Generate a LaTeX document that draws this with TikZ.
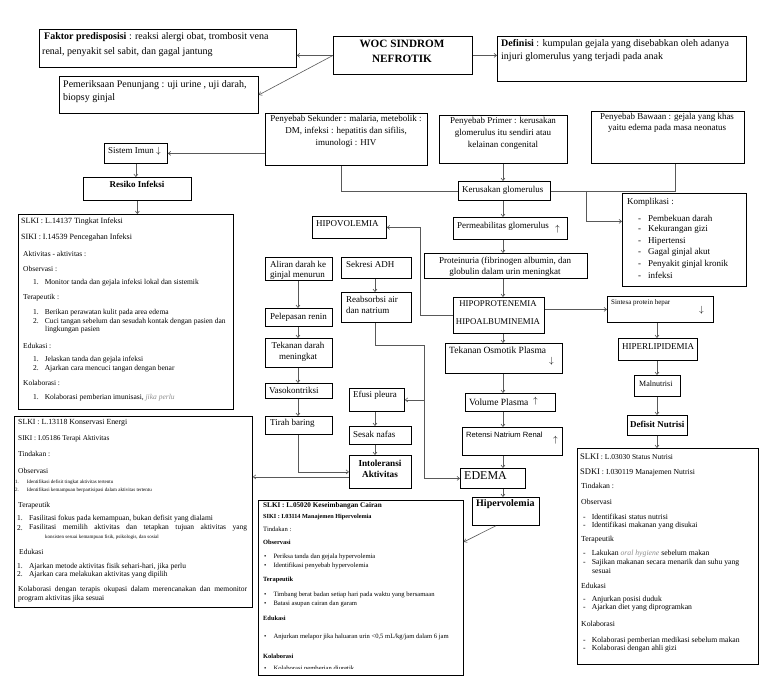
\documentclass[tikz,border=0pt]{standalone}
\usepackage{fontspec}
\setmainfont{Liberation Serif}
\newfontfamily\arialfont{Liberation Sans}
\usetikzlibrary{arrows.meta}

\tikzset{
  box/.style={draw, line width=0.8pt, inner sep=0pt, anchor=north west},
  txt/.style={inner sep=0pt, anchor=west, font=\fontsize{9}{10}\selectfont},
  big/.style={txt, font=\fontsize{10}{11}\selectfont},
  ctxt/.style={txt, anchor=center},
  btxt/.style={txt, font=\fontsize{9}{10}\selectfont\bfseries},
  ttl/.style={inner sep=0pt, font=\fontsize{11.2}{12}\selectfont\bfseries},
  sm/.style={inner sep=0pt, anchor=west, font=\fontsize{7.5}{8}\selectfont},
  sc/.style={inner sep=0pt, anchor=west, font=\fontsize{6.6}{7}\selectfont},
  scb/.style={sc, font=\fontsize{6.4}{7}\selectfont\bfseries},
  sn/.style={inner sep=0pt, anchor=west, font=\fontsize{7.7}{8}\selectfont},
  xs/.style={inner sep=0pt, anchor=west, font=\fontsize{5}{6}\selectfont},
  arr/.style={draw=black!65, line width=0.6pt, -{Straight Barb[length=2.5pt,width=4pt]}},
  ln/.style={draw=black!65, line width=0.6pt},
}

\begin{document}
\begin{tikzpicture}[x=1pt,y=-1pt]
\useasboundingbox[fill=white] (0,0) rectangle (768,678);

% boxes
\node[box, minimum width=257, minimum height=38] (faktor) at (39,29) {};
\node[box, minimum width=199, minimum height=37] (pemeriksaan) at (59,76) {};
\node[box, minimum width=139, minimum height=38] (woc) at (333,36) {};
\node[box, minimum width=249, minimum height=45] (definisi) at (497,36) {};
\node[box, minimum width=162, minimum height=52] (sekunder) at (265,113) {};
\node[box, minimum width=128, minimum height=48] (primer) at (439,115) {};
\node[box, minimum width=153, minimum height=52] (bawaan) at (591,111) {};
\node[box, minimum width=63, minimum height=20] (imun) at (104,143) {};
\node[box, minimum width=108, minimum height=23] (resiko) at (83,177) {};
\node[box, minimum width=215, minimum height=195] (infeksi) at (18,214) {};
\node[box, minimum width=92, minimum height=19] (kerusakan) at (458,181) {};
\node[box, minimum width=74, minimum height=22] (hipovolemia) at (312,216) {};
\node[box, minimum width=114, minimum height=22] (permeabilitas) at (453,217) {};
\node[box, minimum width=124, minimum height=93] (komplikasi) at (622,193) {};
\node[box, minimum width=67, minimum height=23] (aliran) at (265,257) {};
\node[box, minimum width=70, minimum height=21] (sekresi) at (341,257) {};
\node[box, minimum width=163, minimum height=25] (proteinuria) at (424,253) {};
\node[box, minimum width=70, minimum height=30] (reab) at (341,292) {};
\node[box, minimum width=67, minimum height=18] (pelepasan) at (265,308) {};
\node[box, minimum width=91, minimum height=36] (hipo) at (453,297) {};
\node[box, minimum width=106, minimum height=26] (sintesa) at (607,296) {};
\node[box, minimum width=67, minimum height=29] (tekdarah) at (265,338) {};
\node[box, minimum width=117, minimum height=30] (osmotik) at (445,343) {};
\node[box, minimum width=79, minimum height=22] (hiperlip) at (618,338) {};
\node[box, minimum width=67, minimum height=15] (vaso) at (265,383) {};
\node[box, minimum width=46, minimum height=21] (malnut) at (634,375) {};
\node[box, minimum width=55, minimum height=23] (efusi) at (349,388) {};
\node[box, minimum width=90, minimum height=18] (volume) at (465,393) {};
\node[box, minimum width=60, minimum height=20] (defisit) at (627,415) {};
\node[box, minimum width=67, minimum height=18] (tirah) at (265,416) {};
\node[box, minimum width=62, minimum height=18] (sesak) at (349,426) {};
\node[box, minimum width=100, minimum height=28] (retensi) at (462,427) {};
\node[box, minimum width=181, minimum height=216] (nutrisi) at (577,448) {};
\node[box, minimum width=62, minimum height=33] (intol) at (349,455) {};
\node[box, minimum width=65, minimum height=20] (edema) at (460,468) {};
\node[box, minimum width=67, minimum height=28] (hipervol) at (472,497) {};
\node[box, minimum width=238, minimum height=191] (aktivitas) at (14,416) {};
\node[box, minimum width=205, minimum height=175] (cairan) at (258,500) {};

% short labels
\node[big] (faktor1) at (44,37) {\textbf{Faktor predisposisi} : reaksi alergi obat, trombosit vena};
\node[big] (faktor2) at (42,52) {renal, penyakit sel sabit, dan gagal jantung};
\node[big] (pem1) at (63,85) {Pemeriksaan Penunjang : uji urine , uji darah,};
\node[big] (pem2) at (63,98) {biopsy ginjal};
\node[ttl] (woc1) at (402,44) {WOC SINDROM};
\node[ttl] (woc2) at (402,59) {NEFROTIK};
\node[big] (def1) at (501,44) {\textbf{Definisi} : kumpulan gejala yang disebabkan oleh adanya};
\node[big] (def2) at (501,57) {injuri glomerulus yang terjadi pada anak};
\node[ctxt] (sek1) at (346,119) {Penyebab Sekunder : malaria, metebolik :};
\node[ctxt] (sek2) at (346,131) {DM, infeksi : hepatitis dan sifilis,};
\node[ctxt] (sek3) at (346,143) {imunologi : HIV};
\node[ctxt] (pri1) at (503,121) {Penyebab Primer : kerusakan};
\node[ctxt] (pri2) at (503,133) {glomerulus itu sendiri atau};
\node[ctxt] (pri3) at (503,145) {kelainan congenital};
\node[ctxt] (baw1) at (667,117) {Penyebab Bawaan : gejala yang khas};
\node[ctxt] (baw2) at (667,128) {yaitu edema pada masa neonatus};
\node[txt] (imun1) at (108,151) {Sistem Imun $\downarrow$};
\node[btxt, anchor=center] (resiko1) at (137,184) {Resiko Infeksi};
\node[txt] (ker1) at (462,190) {Kerusakan glomerulus};
\node[txt] (hvol1) at (316,224) {HIPOVOLEMIA};
\node[txt] (perm1) at (457,226) {Permeabilitas glomerulus};
\node[txt] (perm2) at (555,229) {$\uparrow$};
\node[txt] (kom0) at (627,202) {Komplikasi :};
\foreach \t [count=\i] in {Pembekuan darah, Kekurangan gizi, Hipertensi,
    Gagal ginjal akut, Penyakit ginjal kronik, infeksi}
  \node[txt] (kom\i) at (638,206.5+11.5*\i) {-\hspace{7pt}\t};
\node[txt] (ali1) at (270,264) {Aliran darah ke};
\node[txt] (ali2) at (270,275) {ginjal menurun};
\node[txt] (adh1) at (346,264) {Sekresi ADH};
\node[ctxt] (pro1) at (505,261) {Proteinuria (fibrinogen albumin, dan};
\node[ctxt] (pro2) at (505,272) {globulin dalam urin meningkat};
\node[txt] (rea1) at (346,299) {Reabsorbsi air};
\node[txt] (rea2) at (346,310) {dan natrium};
\node[txt] (pel1) at (270,317) {Pelepasan renin};
\node[ctxt, font=\fontsize{8.8}{10}\selectfont] (hipo1) at (498,304) {HIPOPROTENEMIA};
\node[ctxt, font=\fontsize{8.8}{10}\selectfont] (hipo2) at (498,322) {HIPOALBUMINEMIA};
\node[txt, font=\fontsize{7}{8}\selectfont] (sin1) at (611,303) {Sintesa protein hepar};
\node[txt] (sin2) at (699,310) {$\downarrow$};
\node[ctxt] (tek1) at (298,345) {Tekanan darah};
\node[ctxt] (tek2) at (298,357) {meningkat};
\node[txt, font=\fontsize{9.5}{10}\selectfont] (osm1) at (449,350) {Tekanan Osmotik Plasma};
\node[txt] (osm2) at (549,361) {$\downarrow$};
\node[txt] (lip1) at (622,347) {HIPERLIPIDEMIA};
\node[txt] (vas1) at (269,390) {Vasokontriksi};
\node[txt, font=\fontsize{8}{9}\selectfont] (mal1) at (639,384) {Malnutrisi};
\node[txt] (efu1) at (353,395) {Efusi pleura};
\node[txt, font=\fontsize{9.5}{10}\selectfont] (vol1) at (469,402) {Volume Plasma};
\node[txt] (vol2) at (533,401) {$\uparrow$};
\node[btxt] (def3) at (630,424) {Defisit Nutrisi};
\node[txt] (tir1) at (270,423) {Tirah baring};
\node[txt] (ses1) at (353,434) {Sesak nafas};
\node[txt, font=\arialfont\fontsize{7.6}{8}\selectfont] (ret1) at (466,435) {Retensi Natrium Renal};
\node[txt] (ret2) at (553,440) {$\uparrow$};
\node[btxt, anchor=center, font=\fontsize{9.2}{10}\selectfont\bfseries] (int1) at (380,463) {Intoleransi};
\node[btxt, anchor=center, font=\fontsize{9.2}{10}\selectfont\bfseries] (int2) at (380,474) {Aktivitas};
\node[txt, font=\fontsize{12}{13}\selectfont] (ede1) at (464,476) {EDEMA};
\node[btxt, font=\fontsize{10}{11}\selectfont\bfseries] (hip1) at (476,504) {Hipervolemia};

% SLKI infeksi
\node[sm, font=\fontsize{8}{9}\selectfont] (i1) at (21,222) {SLKI : L.14137 Tingkat Infeksi};
\node[sm, font=\fontsize{8}{9}\selectfont] (i2) at (21,238) {SIKI : I.14539 Pencegahan Infeksi};
\node[sm] (i3) at (23,254) {Aktivitas - aktivitas :};
\node[sm] (i4) at (23,269) {Observasi :};
\node[sm] (i5) at (33,283) {1.\hspace{6pt}Monitor tanda dan gejala infeksi lokal dan sistemik};
\node[sm] (i6) at (23,298) {Terapeutik :};
\node[sm] (i7) at (33,313) {1.\hspace{6pt}Berikan perawatan kulit pada area edema};
\node[sm] (i8) at (33,322) {2.\hspace{6pt}Cuci tangan sebelum dan sesudah kontak dengan pasien dan};
\node[sm] (i9) at (45,330) {lingkungan pasien};
\node[sm] (i10) at (23,346) {Edukasi :};
\node[sm] (i11) at (33,360) {1.\hspace{6pt}Jelaskan tanda dan gejala infeksi};
\node[sm] (i12) at (33,369) {2.\hspace{6pt}Ajarkan cara mencuci tangan dengan benar};
\node[sm] (i13) at (23,383) {Kolaborasi :};
\node[sm] (i14) at (33,398) {1.\hspace{6pt}Kolaborasi pemberian imunisasi, \textcolor{black!45}{\textit{jika perlu}}};

% SLKI aktivitas
\node[sm, font=\fontsize{7.8}{9}\selectfont] (a1) at (18,423) {SLKI : L.13118 Konservasi Energi};
\node[sm, font=\fontsize{7.3}{9}\selectfont] (a2) at (18,439) {SIKI : I.05186 Terapi Aktivitas};
\node[sm] (a3) at (18,454) {Tindakan :};
\node[sm] (a4) at (18,471) {Observasi};
\node[xs] (a5) at (15,482) {1.\hspace{8pt}Identifikasi defisit tingkat aktivitas tertentu};
\node[xs] (a6) at (15,490) {2.\hspace{8pt}Identifikasi kemampuan berpartisipasi dalam aktivitas tertentu};
\node[sm] (a7) at (18,506) {Terapeutik};
\node[sm] (a8) at (17,519) {1.\hspace{6.4pt}Fasilitasi fokus pada kemampuan, bukan defisit yang dialami};
\node[sm] (a9) at (17,528) {2.};
\node[sm] (a10) at (29,528) {\makebox[218pt][s]{Fasilitasi memilih aktivitas dan tetapkan tujuan aktivitas yang}};
\node[xs] (a11) at (45,537) {konsisten sesuai kemampuan fisik, psikologis, dan sosial};
\node[sm] (a12) at (19,552) {Edukasi};
\node[sm] (a13) at (17,567) {1.\hspace{6.4pt}Ajarkan metode aktivitas fisik sehari-hari, jika perlu};
\node[sm] (a14) at (17,575) {2.\hspace{6.4pt}Ajarkan cara melakukan aktivitas yang dipilih};
\node[sm] (a15) at (18,590) {\makebox[229pt][s]{Kolaborasi dengan terapis okupasi dalam merencanakan dan memonitor}};
\node[sm] (a16) at (18,599) {program aktivitas jika sesuai};

% SLKI cairan
\node[scb, font=\fontsize{7.2}{8}\selectfont\bfseries] (c1) at (263,506) {SLKI : L.05020 Keseimbangan Cairan};
\node[scb, font=\fontsize{6.2}{7}\selectfont\bfseries] (c2) at (263,517) {SIKI : I.03114 Manajemen Hipervolemia};
\node[sc] (c3) at (263,529) {Tindakan :};
\node[scb] (c4) at (263,542) {Observasi};
\node[sc] (c5) at (264,557) {•\hspace{7pt}Periksa tanda dan gejala hypervolemia};
\node[sc] (c6) at (264,566) {•\hspace{7pt}Identifikasi penyebab hypervolemia};
\node[scb] (c7) at (263,580) {Terapeutik};
\node[sc] (c8) at (264,595) {•\hspace{7pt}Timbang berat badan setiap hari pada waktu yang bersamaan};
\node[sc] (c9) at (264,604) {•\hspace{7pt}Batasi asupan cairan dan garam};
\node[scb] (c10) at (263,618) {Edukasi};
\node[sc] (c11) at (264,637) {•\hspace{7pt}Anjurkan melapor jika haluaran urin <0,5 mL/kg/jam dalam 6 jam};
\node[scb] (c12) at (263,656) {Kolaborasi};
\begin{scope}
  \clip (258,500) rectangle (463,668);
  \node[sc] (c13) at (264,669) {•\hspace{7pt}Kolaborasi pemberian diuretik};
\end{scope}

% SLKI nutrisi
\node[sn, font=\fontsize{7.5}{8}\selectfont] (n1) at (580,457) {{\fontsize{8.5}{9}\selectfont SLKI} : L.03030 Status Nutrisi};
\node[sn, font=\fontsize{7.7}{8}\selectfont] (n2) at (580,472) {{\fontsize{8.5}{9}\selectfont SDKI} : I.030119 Manajemen Nutrisi};
\node[sn] (n3) at (581,486) {Tindakan :};
\node[sn] (n4) at (581,502) {Observasi};
\node[sn] (n5) at (583,517) {-\hspace{6pt}Identifikasi status nutrisi};
\node[sn] (n6) at (583,526) {-\hspace{6pt}Identifikasi makanan yang disukai};
\node[sn] (n7) at (581,540) {Terapeutik};
\node[sn] (n8) at (583,554) {-\hspace{6pt}Lakukan \textcolor{black!45}{\textit{oral hygiene}} sebelum makan};
\node[sn] (n9) at (583,563) {-\hspace{6pt}Sajikan makanan secara menarik dan suhu yang};
\node[sn] (n10) at (592,571) {sesuai};
\node[sn] (n11) at (581,586) {Edukasi};
\node[sn] (n12) at (583,600) {-\hspace{6pt}Anjurkan posisi duduk};
\node[sn] (n13) at (583,608) {-\hspace{6pt}Ajarkan diet yang diprogramkan};
\node[sn] (n14) at (581,624) {Kolaborasi};
\node[sn] (n15) at (583,641) {-\hspace{6pt}Kolaborasi pemberian medikasi sebelum makan};
\node[sn] (n16) at (583,649) {-\hspace{6pt}Kolaborasi dengan ahli gizi};

% spines
\coordinate (ls) at (298,0);
\coordinate (ms) at (375,0);
\coordinate (rs) at (503,0);
\coordinate (fs) at (657,0);
\coordinate (mid) at (424,345);

% connectors
\draw[arr] (woc.west) -- (woc.west -| faktor.east);
\draw[arr] (woc.west) -- (pemeriksaan.east);
\draw[arr] (woc.east) -- (woc.east -| definisi.west);
\draw[arr] (imun.east -| sekunder.west) -- (imun.east);
\draw[arr] (imun.south) -- (imun.south |- resiko.north);
\draw[arr] (resiko.south) -- (resiko.south |- infeksi.north);
\draw[ln] ([xshift=-5pt]sekunder.south) |- (kerusakan.west);
\draw[ln] ([xshift=7pt]bawaan.south) |- (kerusakan.east);
\draw[arr] ([xshift=35pt]kerusakan.east) |- ([yshift=18.5pt]komplikasi.west);

\draw[arr] (rs |- primer.south) -- (rs |- kerusakan.north);
\draw[arr] (rs |- kerusakan.south) -- (rs |- permeabilitas.north);
\draw[arr] (rs |- permeabilitas.south) -- (rs |- proteinuria.north);
\draw[arr] (rs |- proteinuria.south) -- (rs |- hipo.north);
\draw[arr] (rs |- hipo.south) -- (rs |- osmotik.north);
\draw[arr] (rs |- osmotik.south) -- (rs |- volume.north);
\draw[arr] (rs |- volume.south) -- (rs |- retensi.north);
\draw[arr] (rs |- retensi.south) -- (rs |- edema.north);
\draw[arr] (rs |- edema.south) -- (rs |- hipervol.north);
\draw[arr] ([xshift=-10pt]hipervol.south) -- ([yshift=46pt]cairan.east);

\draw[arr] (hipo.west) -- ++(-33,0) |- (hipovolemia.east);
\draw[arr] (hipo.east |- sintesa.west) -- (sintesa.west);

\draw[arr] (ls |- aliran.south) -- (ls |- pelepasan.north);
\draw[arr] (ls |- pelepasan.south) -- (ls |- tekdarah.north);
\draw[arr] (ls |- tekdarah.south) -- (ls |- vaso.north);
\draw[arr] (ls |- vaso.south) -- (ls |- tirah.north);
\draw[arr] (ls |- tirah.south) |- (intol.west);
\draw[arr] ([yshift=-5pt]intol.west) -- ([yshift=-5pt]intol.west -| aktivitas.east);

\draw[arr] (ms |- sekresi.south) -- (ms |- reab.north);
\draw[arr] (ms |- reab.south) |- (mid) |- (edema.west);
\draw[arr] (mid |- efusi.east) -- (efusi.east);
\draw[arr] (ms |- efusi.south) -- (ms |- sesak.north);
\draw[arr] (ms |- sesak.south) -- (ms |- intol.north);

\draw[arr] (fs |- sintesa.south) -- (fs |- hiperlip.north);
\draw[arr] (fs |- hiperlip.south) -- (fs |- malnut.north);
\draw[arr] (fs |- malnut.south) -- (fs |- defisit.north);
\draw[arr] (fs |- defisit.south) -- (fs |- nutrisi.north);

\end{tikzpicture}
\end{document}
